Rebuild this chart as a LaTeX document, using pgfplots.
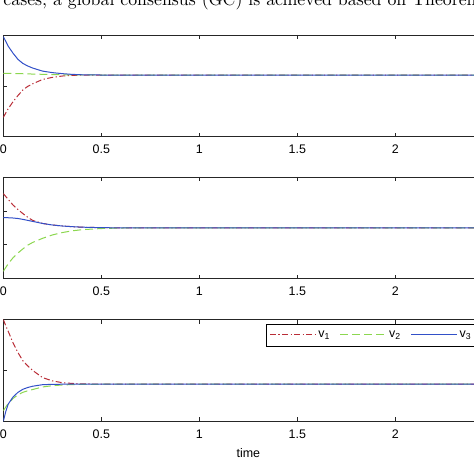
\documentclass[border=0pt]{standalone}
\usepackage{fontspec}
\setsansfont{Liberation Sans}
\usepackage{graphicx}
\usepackage{pgfplots}
\usepackage{pgfplotstable}
\pgfplotsset{compat=1.18}
\definecolor{cR}{RGB}{185,45,55}
\definecolor{cG}{RGB}{140,215,80}
\definecolor{cB}{RGB}{50,80,200}

\pgfplotstableread{
t      r      g      b
0      0.38   1.246  1.97
0.025  0.55   1.245  1.78
0.05   0.69   1.243  1.64
0.075  0.81   1.241  1.52
0.1    0.92   1.238  1.44
0.125  0.99   1.235  1.39
0.15   1.04   1.232  1.35
0.2    1.125  1.227  1.29
0.25   1.167  1.222  1.26
0.3    1.193  1.218  1.24
0.35   1.205  1.216  1.226
0.4    1.211  1.214  1.218
0.5    1.213  1.213  1.213
0.6    1.213  1.213  1.213
2.5    1.213  1.213  1.213
}\tabA

\pgfplotstableread{
t      r      g      b
0      2.51   0.218  1.80
0.025  2.34   0.44   1.798
0.05   2.17   0.62   1.79
0.075  2.04   0.76   1.775
0.1    1.92   0.88   1.75
0.125  1.81   0.99   1.72
0.15   1.72   1.07   1.69
0.2    1.63   1.19   1.63
0.25   1.585  1.29   1.585
0.3    1.555  1.36   1.555
0.35   1.535  1.41   1.535
0.4    1.52   1.445  1.52
0.5    1.505  1.48   1.505
0.6    1.5    1.495  1.5
0.7    1.5    1.5    1.5
2.5    1.5    1.5    1.5
}\tabB

\pgfplotstableread{
t      r      g      b
0      2.0    0.208  0.0
0.0125 1.88   0.28   0.19
0.025  1.77   0.35   0.338
0.05   1.54   0.45   0.48
0.075  1.35   0.52   0.57
0.1    1.19   0.57   0.63
0.125  1.088  0.60   0.665
0.15   1.0    0.625  0.69
0.2    0.86   0.675  0.72
0.25   0.795  0.70   0.727
0.3    0.76   0.714  0.729
0.35   0.745  0.722  0.729
0.4    0.736  0.726  0.729
0.5    0.73   0.729  0.729
2.5    0.729  0.729  0.729
}\tabC

\pgfplotsset{
  panel/.style={
    scale only axis, width=490bp, height=101.7bp,
    xmin=0, xmax=2.5, ymin=0,
    xtick={0,0.5,1,1.5,2},
    tick align=inside, major tick length=4bp,
    yticklabel={},
    axis line style={line width=0.7bp, black!85},
    tick style={line width=0.6bp, black!85},
    tick label style={font=\sffamily\fontsize{12.5}{14}\selectfont},
    /pgf/number format/assume math mode=true,
    xticklabel style={yshift=-5bp},
  },
  rsty/.style={color=cR, draw=cR, line width=1bp, dash pattern=on 6bp off 2.5bp on 1.2bp off 2.5bp},
  gsty/.style={color=cG, draw=cG, line width=1bp, dash pattern=on 8bp off 4bp},
  bsty/.style={color=cB, draw=cB, line width=1bp, solid},
}

\begin{document}
\begin{tikzpicture}
\useasboundingbox (0,0) rectangle (474bp,474bp);
\clip (0,0) rectangle (474bp,474bp);
\node[anchor=base west, inner sep=0pt] at (3.3bp,468.5bp) {\resizebox{478bp}{!}{\rmfamily cases, a global consensus (GC) is achieved based on Theorem}};

\begin{axis}[panel, at={(3.3bp,337.3bp)}, anchor=south west, ymax=2, ytick={1}]
  \addplot[rsty] table[x=t,y=r]{\tabA};
  \addplot[gsty] table[x=t,y=g]{\tabA};
  \addplot[bsty] table[x=t,y=b]{\tabA};
\end{axis}

\begin{axis}[panel, at={(3.3bp,195.3bp)}, anchor=south west, ymax=3, ytick={1,2}]
  \addplot[rsty] table[x=t,y=r]{\tabB};
  \addplot[gsty] table[x=t,y=g]{\tabB};
  \addplot[bsty] table[x=t,y=b]{\tabB};
\end{axis}

\begin{axis}[panel, at={(3.3bp,52.7bp)}, anchor=south west, ymax=2, ytick={1},
  xlabel={time},
  xlabel style={font=\sffamily\fontsize{12.5}{14}\selectfont, at={(axis description cs:0.5,0)}, anchor=center, yshift=-31.7bp},
  legend columns=3,
  legend style={at={(rel axis cs:0.536,0.961)}, anchor=north west, line width=0.7bp,
    font=\sffamily\fontsize{12.5}{14}\selectfont, inner ysep=5bp, inner xsep=3bp,
    /tikz/every even column/.append style={column sep=8bp}},
  ]
  \addplot[rsty, legend image code/.code={\draw[draw=cR, line width=1.1bp, dash pattern=on 6bp off 2.5bp on 1.2bp off 2.5bp] (0bp,0bp) -- (46bp,0bp);}] table[x=t,y=r]{\tabC};
  \addlegendentry{v\textsubscript{1}}
  \addplot[gsty, legend image code/.code={\draw[draw=cG, line width=1.1bp, dash pattern=on 8bp off 4bp] (0bp,0bp) -- (46bp,0bp);}] table[x=t,y=g]{\tabC};
  \addlegendentry{v\textsubscript{2}}
  \addplot[bsty, legend image code/.code={\draw[draw=cB, line width=1.1bp, solid] (0bp,0bp) -- (46bp,0bp);}] table[x=t,y=b]{\tabC};
  \addlegendentry{v\textsubscript{3}}
\end{axis}
\end{tikzpicture}
\end{document}
